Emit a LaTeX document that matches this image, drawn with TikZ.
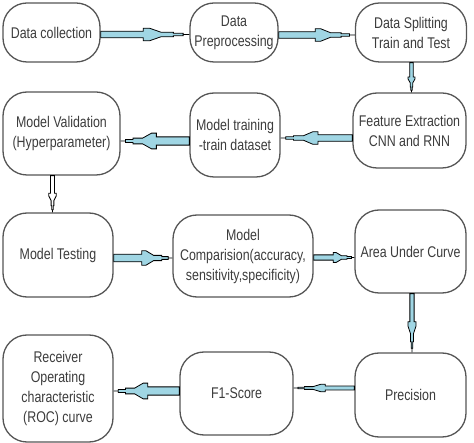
\documentclass[tikz,border=0pt]{standalone}
\usepackage{fontspec}
\setmainfont{Liberation Sans}[FakeStretch=0.8]
\usetikzlibrary{calc}
\definecolor{arrblue}{RGB}{160,214,228}
\definecolor{boxline}{RGB}{85,85,85}
\definecolor{txt}{RGB}{60,60,60}
\tikzset{
  box/.style={draw=boxline, line width=1.3pt, rounded corners=24pt, align=center,
    text=txt, font=\fontsize{15.5}{20}\selectfont, inner sep=0pt},
  arrfill/.style={draw=black, line width=0.8pt, fill=arrblue, line join=miter},
  arrwhite/.style={draw=black, line width=0.8pt, fill=white, line join=miter},
  ar/.style={shift={(\p1)},rotate=\n1}
}
\newcommand\fatarr[4][arrfill]{%
  \draw[#1] let \p1=(#2), \p2=(#3), \n1={atan2(\y2-\y1,\x2-\x1)}, \n2={veclen(\x2-\x1,\y2-\y1)} in
    ([ar]0,{-3.3*#4}) -- ([ar]{0.48*\n2},{-3.3*#4}) -- ([ar]{0.48*\n2},{-6.3*#4})
    -- ([ar]{0.55*\n2},{-6.3*#4}) -- ([ar]{0.68*\n2},{-2.3*#4}) -- ([ar]{0.82*\n2},{-2.3*#4})
    -- ([ar]{0.82*\n2},{-1.2*#4}) -- ([ar]{0.93*\n2},{-1.2*#4}) -- ([ar]{0.93*\n2},{1.2*#4})
    -- ([ar]{0.82*\n2},{1.2*#4}) -- ([ar]{0.82*\n2},{2.3*#4}) -- ([ar]{0.68*\n2},{2.3*#4})
    -- ([ar]{0.55*\n2},{6.3*#4}) -- ([ar]{0.48*\n2},{6.3*#4}) -- ([ar]{0.48*\n2},{3.3*#4})
    -- ([ar]0,{3.3*#4}) -- cycle
    ([ar]{0.93*\n2},0) -- ([ar]{\n2},0);%
}
\begin{document}
\begin{tikzpicture}[x=1pt,y=-1pt]
\useasboundingbox (0,0) rectangle (474,443);
% row 1
\node[box, minimum width=97pt, minimum height=59pt] (dc) at (51.5,32.5) {Data collection};
\node[box, minimum width=88pt, minimum height=59pt] (dp) at (234,32.5) {Data\\Preprocessing};
\node[box, minimum width=111pt, minimum height=59pt] (ds) at (411,32.5) {Data Splitting\\Train and Test};
% row 2
\node[box, minimum width=117pt, minimum height=83pt] (mv) at (61.5,133.5) {Model Validation\\(Hyperparameter)};
\node[box, minimum width=90pt, minimum height=84pt] (mt) at (235,135) {Model training\\-train dataset};
\node[box, minimum width=113pt, minimum height=75pt] (fe) at (409.5,130.5) {Feature Extraction\\CNN and RNN};
% row 3
\node[box, minimum width=110pt, minimum height=84pt] (mtest) at (58,255) {Model Testing};
\node[box, minimum width=140pt, minimum height=82pt] (mc) at (243,256) {Model\\Comparision(accuracy,\\sensitivity,specificity)};
\node[box, minimum width=111pt, minimum height=83pt] (auc) at (410.5,251.5) {Area Under Curve};
% row 4
\node[box, minimum width=110pt, minimum height=107pt] (roc) at (58,388.5) {Receiver\\Operating\\characteristic\\(ROC) curve};
\node[box, minimum width=113pt, minimum height=83pt] (f1) at (236.5,393.5) {F1-Score};
\node[box, minimum width=111pt, minimum height=84pt] (pr) at (410.5,395) {Precision};
% arrows
\coordinate (a1s) at (dc.east |- 0,34.5);
\coordinate (a1e) at (dp.west |- 0,34.5);
\fatarr{a1s}{a1e}{1}
\coordinate (a2s) at (dp.east |- 0,35);
\coordinate (a2e) at (ds.west |- 0,35);
\fatarr{a2s}{a2e}{1}
\coordinate (a3s) at (411.5,0 |- ds.south);
\coordinate (a3e) at (411.5,0 |- fe.north);
\fatarr{a3s}{a3e}{0.55}
\coordinate (a4s) at (fe.west |- 0,138);
\coordinate (a4e) at (mt.east |- 0,138);
\fatarr{a4s}{a4e}{1}
\coordinate (a5s) at (mt.west |- 0,141);
\coordinate (a5e) at (mv.east |- 0,141);
\fatarr{a5s}{a5e}{1.25}
\coordinate (a6s) at (52.5,0 |- mv.south);
\coordinate (a6e) at (52.5,0 |- mtest.north);
\fatarr[arrwhite]{a6s}{a6e}{0.6}
\coordinate (a7s) at (mtest.east |- 0,258);
\coordinate (a7e) at (mc.west |- 0,258);
\fatarr{a7s}{a7e}{1.15}
\coordinate (a8s) at (mc.east |- 0,257.5);
\coordinate (a8e) at (auc.west |- 0,257.5);
\fatarr{a8s}{a8e}{0.8}
\coordinate (a9s) at (412,0 |- auc.south);
\coordinate (a9e) at (412,0 |- pr.north);
\fatarr{a9s}{a9e}{0.65}
\coordinate (a10s) at (pr.west |- 0,388);
\coordinate (a10e) at (f1.east |- 0,388);
\fatarr{a10s}{a10e}{0.6}
\coordinate (a11s) at (f1.west |- 0,391);
\coordinate (a11e) at (roc.east |- 0,391);
\fatarr{a11s}{a11e}{1.25}
\end{tikzpicture}
\end{document}
